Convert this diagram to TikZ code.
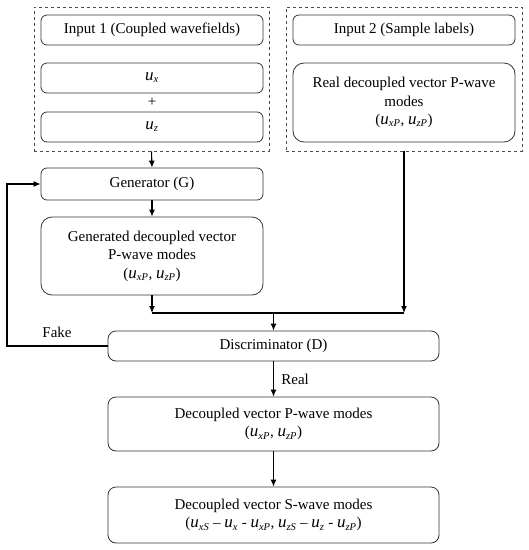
\documentclass[tikz,border=0pt]{standalone}
\usepackage{fontspec}
\setmainfont{Liberation Serif}
\usetikzlibrary{arrows.meta}
\newcommand{\uu}[1]{{\fontsize{17}{18.5}\selectfont\itshape u}\textsubscript{\itshape #1}}
\begin{document}
\begin{tikzpicture}[x=1pt, y=-1pt, font=\fontsize{15}{18.5}\selectfont,
    box/.style={draw=black!80, line width=0.8pt, rounded corners=6pt, minimum width=222pt, minimum height=30pt, inner sep=0pt, align=center},
    bigbox/.style={box, rounded corners=11pt},
    widebox/.style={box, rounded corners=8pt, minimum width=331pt},
    group/.style={draw=black!70, line width=0.8pt, dashed, inner sep=0pt},
    arr/.style={line width=1.1pt, -{Latex[length=7pt,width=6pt]}},
    line/.style={line width=1.1pt}]
    \useasboundingbox (0,0) rectangle (529,550);
    % inputs
    \node[group, minimum width=235pt, minimum height=144pt] (grp1) at (151.5,79) {};
    \node[group, minimum width=236pt, minimum height=144pt] (grp2) at (404,79) {};
    \node[box] (in1) at (152,30) {Input 1 (Coupled wavefields)};
    \node[box] (ux) at (152,78) {\uu{x}};
    \node (plus) at (152,102) {+};
    \node[box] (uz) at (152,127) {\uu{z}};
    \node[box] (in2) at (404,30) {Input 2 (Sample labels)};
    \node[bigbox, minimum height=79pt] (real) at (404,102.5)
        {Real decoupled vector P-wave\\ modes\\ (\uu{xP}, \uu{zP})};
    % generator
    \node[box, minimum height=32pt] (gen) at (152,184) {Generator (G)};
    \node[bigbox, minimum height=78pt] (fake) at (152,256)
        {Generated decoupled vector\\ P-wave modes\\ (\uu{xP}, \uu{zP})};
    % discriminator and outputs
    \node[widebox] (disc) at (273.5,346) {Discriminator (D)};
    \node[widebox, minimum height=54pt] (pmode) at (273.5,424)
        {Decoupled vector P-wave modes\\ (\uu{xP}, \uu{zP})};
    \node[widebox, minimum height=56pt] (smode) at (273.5,515)
        {Decoupled vector S-wave modes\\ (\uu{xS} -- \uu{x} - \uu{xP}, \uu{zS} -- \uu{z} - \uu{zP})};
    \coordinate (join) at (273.5,313);
    \coordinate (back) at (7,346);
    % connectors
    \draw[arr] (grp1.south) -- (gen.north);
    \draw[arr] (gen.south) -- (fake.north);
    \draw[arr] (fake.south) -- (fake.south |- join);
    \draw[arr] (grp2.south) -- (grp2.south |- join);
    \draw[line] (fake.south |- join) -- (grp2.south |- join);
    \draw[arr] (join) -- (disc.north);
    \draw[line, -{Latex[length=7pt,width=6pt]}] (disc.west) -- (back) |- (gen.west);
    \draw[arr] (disc.south) -- node[right=4pt] {Real} (pmode.north);
    \draw[arr] (pmode.south) -- (smode.north);
    \node (fk) at (57,332) {Fake};
\end{tikzpicture}
\end{document}
